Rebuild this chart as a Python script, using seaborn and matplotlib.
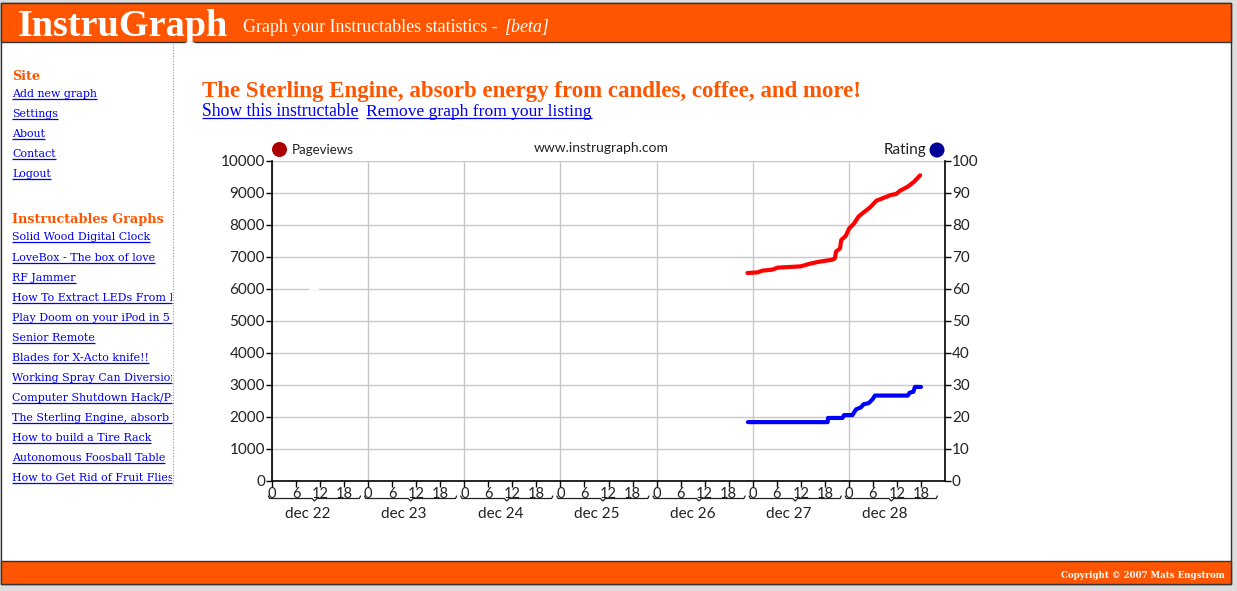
import numpy as np
import pandas as pd
import seaborn as sns
import matplotlib.pyplot as plt
from matplotlib.patches import Rectangle, Circle
from matplotlib.transforms import blended_transform_factory

# values
pageview_hours = [118.7, 121.2, 122.4, 124.9, 126.2, 132.0, 134.0, 136.2, 139.9, 140.5, 140.8,
                  141.8, 142.1, 143.2, 144.1, 145.2, 146.4, 147.4, 149.3, 150.9, 152.8, 154.5,
                  155.8, 156.8, 158.7, 160.3, 161.8]
pageviews = [6500, 6520, 6573, 6605, 6667, 6708, 6781, 6844, 6917, 6958, 7167,
             7271, 7531, 7656, 7896, 8031, 8260, 8365, 8552, 8760, 8854, 8938,
             8969, 9073, 9198, 9354, 9553]
rating_hours = [118.8, 138.7, 138.8, 142.4, 142.8, 144.9, 145.8, 147.0, 147.7, 148.9, 149.9,
                150.5, 158.7, 159.2, 160.1, 160.5, 162.0]
rating = [18.4, 18.4, 19.7, 19.7, 20.6, 20.6, 22.4, 23.0, 24.0, 24.3, 25.5,
          26.7, 26.7, 27.6, 27.9, 29.4, 29.4]

day_labels = ['dec 22', 'dec 23', 'dec 24', 'dec 25', 'dec 26', 'dec 27', 'dec 28']
hour_labels = ['6', '12', '18']
left_ticks = list(range(0, 10001, 1000))
right_ticks = list(range(0, 101, 10))

site_links = ['Add new graph', 'Settings', 'About', 'Contact', 'Logout']
graph_links = ['Solid Wood Digital Clock', 'LoveBox - The box of love', 'RF Jammer',
               'How To Extract LEDs From Broken', 'Play Doom on your iPod in 5 steps',
               'Senior Remote', 'Blades for X-Acto knife!!', 'Working Spray Can Diversion Safe',
               'Computer Shutdown Hack/Prank', 'The Sterling Engine, absorb energy',
               'How to build a Tire Rack', 'Autonomous Foosball Table',
               'How to Get Rid of Fruit Flies']

ORANGE = '#ff5500'
LINK = '#0000ee'
SERIF = 'Liberation Serif'
SIDE = 'DejaVu Serif'
CHART = 'Lato'

sns.set_theme(style='whitegrid')
plt.rcParams['font.family'] = ['Liberation Serif', 'DejaVu Sans']

fig = plt.figure(figsize=(12.37, 5.91), dpi=100, facecolor='#dddddd')

# page around the chart, in pixels
page = fig.add_axes([0, 0, 1, 1], zorder=0)
page.set_xlim(0, 1237)
page.set_ylim(591, 0)
page.axis('off')
page.add_patch(Rectangle((1, 3), 1229.5, 581, fc='white', ec='#333333', lw=1))
page.add_patch(Rectangle((1, 3), 1229.5, 39, fc=ORANGE, ec='#333333', lw=1))
page.add_patch(Rectangle((1, 561), 1229.5, 23, fc=ORANGE, ec='#333333', lw=1))
page.plot([172.5, 172.5], [44, 486], color='#999999', lw=0.8, ls=(0, (1, 1.5)))

sidebar_clip = Rectangle((0, 0), 172, 591, transform=page.transData)
renderer = fig.canvas.get_renderer()


def link(x, y, s, size, family=SERIF, clip=False, offset=2):
    t = page.text(x, y, s, color=LINK, fontsize=size, family=family, va='baseline')
    box = t.get_window_extent(renderer)
    x1 = box.x1
    if clip:
        t.set_clip_on(True)
        t.set_clip_path(sidebar_clip)
        x1 = min(x1, 172)
    page.plot([x, x1], [y + offset, y + offset], color=LINK, lw=0.9, solid_capstyle='butt')
    return x1


page.text(18, 36, 'InstruGraph', color='white', fontsize=27.5, weight='bold', family=SERIF)
sub = page.text(243, 32, 'Graph your Instructables statistics - ', color='white', fontsize=12.9, family=SERIF)
page.text(sub.get_window_extent(renderer).x1 + 3, 32, '[beta]', color='white', fontsize=12.9,
          style='italic', family=SERIF)

page.text(12, 80, 'Site', color=ORANGE, fontsize=9.3, weight='bold', family=SIDE)
for i, s in enumerate(site_links):
    link(12, 97 + i * 20, s, 7.9, SIDE)

page.text(12, 223, 'Instructables Graphs', color=ORANGE, fontsize=9.3, weight='bold', family=SIDE)
graph_y = [240, 261, 281, 301, 321, 341, 361, 381, 401, 421, 441, 461, 481]
for y, s in zip(graph_y, graph_links):
    link(12, y, s, 7.9, SIDE, clip=True)

page.text(202, 97, 'The Sterling Engine, absorb energy from candles, coffee, and more!',
          color=ORANGE, fontsize=16.5, weight='bold', family=SERIF)
link(202, 116, 'Show this instructable', 12.7, SERIF)
link(366, 116, 'Remove graph from your listing', 12.6, SERIF)
page.text(1225, 578, 'Copyright © 2007 Mats Engstrom', color='white', fontsize=6.2, weight='bold',
          family=SIDE, ha='right')

# chart, axes placed on the pixel box of the reference
ax = fig.add_axes([272 / 1237, (591 - 481) / 591, 673 / 1237, 320 / 591], zorder=1)
ax.patch.set_visible(False)
df_views = pd.DataFrame({'hour': pageview_hours, 'views': pageviews})
df_rating = pd.DataFrame({'hour': rating_hours, 'rating': rating})

sns.lineplot(data=df_views, x='hour', y='views', color='#ff0000', lw=3, ax=ax, zorder=4,
             solid_capstyle='round', solid_joinstyle='round')
ax.set_xlim(0, 168)
ax.set_ylim(0, 10000)
ax.set_xlabel('')
ax.set_ylabel('')

days = np.arange(7) * 24
ax.set_xticks(days, labels=['0'] * 7)
minor = [d + h for d in days for h in (6, 12, 18)]
ax.set_xticks(minor, labels=hour_labels * 7, minor=True)
ax.set_yticks(left_ticks)
ax.grid(axis='both', which='major', color='#c8c8c8', lw=1)
ax.grid(axis='x', which='minor', visible=False)
ax.tick_params(axis='both', which='both', length=4, width=1, color='black', bottom=True, left=True,
               labelcolor='#222222')
ax.tick_params(axis='y', labelsize=11, pad=1)
ax.tick_params(axis='x', which='both', labelsize=10.5, pad=0)
for s in ('left', 'bottom'):
    ax.spines[s].set_color('black')
    ax.spines[s].set_linewidth(1.2)
ax.spines['top'].set_visible(False)
ax.spines['right'].set_visible(False)
# small white gap on the 6000 line
ax.plot([9.5, 11.5], [6000, 6000], color='white', lw=1.5, zorder=3)

ax2 = ax.twinx()
ax2.patch.set_visible(False)
sns.lineplot(data=df_rating, x='hour', y='rating', color='#0000ff', lw=3, ax=ax2, zorder=4,
             solid_capstyle='round', solid_joinstyle='round')
ax2.set_ylim(0, 100)
ax2.set_ylabel('')
ax2.set_yticks(right_ticks)
ax2.grid(False)
ax2.tick_params(axis='y', length=4, width=1, color='black', right=True, labelsize=11, pad=1,
                labelcolor='#222222')
ax2.spines['top'].set_visible(False)
ax2.spines['left'].set_visible(False)
ax2.spines['bottom'].set_visible(False)
ax2.spines['right'].set_color('black')
ax2.spines['right'].set_linewidth(1.2)

for label in ax.get_xticklabels(which='both') + ax.get_yticklabels() + ax2.get_yticklabels():
    label.set_family(CHART)

# braces and day names under the hours
trans = blended_transform_factory(ax.transData, page.transData)
for d, s in zip(days, day_labels):
    bx = np.array([-0.9, -0.6, 10, 10.6, 11.2, 21.8, 22.1]) + d
    by = [496, 498.5, 498.5, 501, 498.5, 498.5, 496]
    ax.plot(bx, by, transform=trans, color='#222222', lw=0.9, clip_on=False)
    ax.text(d + 9, 518, s, transform=trans, ha='center', fontsize=11, color='#222222',
            family=CHART, clip_on=False)

# legend row
page.add_patch(Circle((279.5, 149.5), 7.5, fc='#aa0000', ec='none'))
page.add_patch(Circle((937, 150), 7.5, fc='#000099', ec='none'))
page.text(292, 154, 'Pageviews', fontsize=9.6, color='#222222', family=CHART)
page.text(926, 154, 'Rating', fontsize=11, color='#222222', family=CHART, ha='right')
page.text(601, 152, 'www.instrugraph.com', fontsize=10, color='#222222', family=CHART, ha='center')

fig.savefig('out.png', dpi=100, facecolor=fig.get_facecolor())
